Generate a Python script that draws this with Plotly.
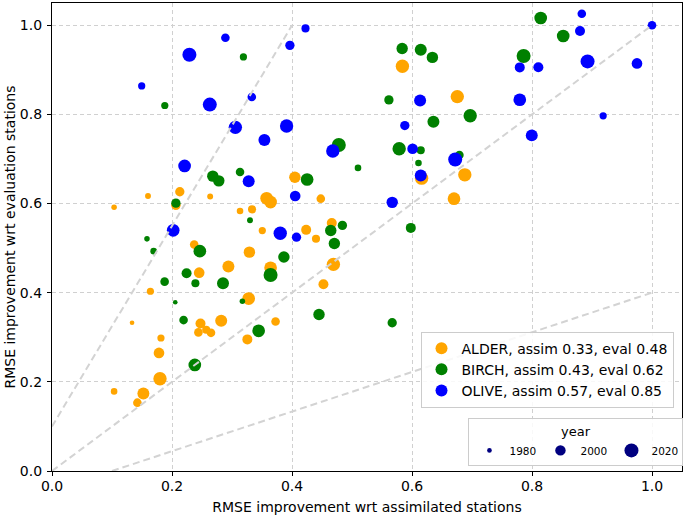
import plotly.graph_objects as go

# ---------------- data ----------------
alder_x = [0.584, 0.6755, 0.688, 0.670, 0.616, 0.4048, 0.448, 0.4663, 0.4236, 0.440, 0.469, 0.4524,
           0.16, 0.213, 0.2636, 0.1035, 0.2065, 0.3577, 0.3643, 0.3334, 0.3134, 0.3505,
           0.237, 0.329, 0.294, 0.3643, 0.2453, 0.164, 0.3278, 0.1334, 0.2475, 0.282,
           0.3726, 0.244, 0.257, 0.265, 0.3256, 0.1816, 0.1783, 0.180, 0.1035, 0.1523, 0.1423]
alder_y = [0.908, 0.840, 0.6645, 0.611, 0.657, 0.659, 0.611, 0.5565, 0.541, 0.521, 0.4636, 0.419,
           0.617, 0.6265, 0.616, 0.592, 0.596, 0.612, 0.6034, 0.587, 0.5833, 0.5394,
           0.508, 0.491, 0.459, 0.456, 0.445, 0.4033, 0.3869, 0.3326, 0.331, 0.337,
           0.3355, 0.311, 0.317, 0.310, 0.2953, 0.2984, 0.265, 0.207, 0.1786, 0.174, 0.1533]
alder_year = [2016, 2016, 2016, 2012, 2016, 2005, 1992, 1998, 1998, 1990, 2016, 1998,
              1983, 1995, 1983, 1982, 1995, 2012, 2012, 1990, 1985, 1987,
              1992, 2005, 2008, 2012, 2001, 1987, 2012, 1980, 1998, 2008,
              1992, 1992, 1990, 1992, 1998, 1987, 2001, 2016, 1985, 2008, 1992]

birch_x = [0.188, 0.319, 0.5836, 0.6146, 0.634, 0.5615, 0.697, 0.6357, 0.478, 0.5786, 0.6146, 0.6108,
           0.51, 0.679, 0.8145, 0.852, 0.786, 0.598, 0.484, 0.567, 0.268, 0.278, 0.3134, 0.4252,
           0.2065, 0.330, 0.1583, 0.1694, 0.2464, 0.3865, 0.3643, 0.2243, 0.1877, 0.239, 0.285,
           0.2054, 0.3173, 0.2193, 0.3444, 0.238, 0.445, 0.4646, 0.4706]
birch_y = [0.820, 0.929, 0.948, 0.945, 0.928, 0.8326, 0.797, 0.7835, 0.7314, 0.723, 0.7195, 0.691,
           0.680, 0.709, 1.0164, 0.976, 0.931, 0.5454, 0.551, 0.3326, 0.6615, 0.651, 0.671, 0.654,
           0.601, 0.5625, 0.5208, 0.4933, 0.4933, 0.480, 0.4397, 0.4435, 0.4248, 0.4212, 0.421,
           0.3787, 0.381, 0.3386, 0.3145, 0.238, 0.351, 0.5395, 0.5105]
birch_year = [1987, 1987, 2005, 2008, 2005, 1995, 2016, 2008, 2020, 2016, 1990, 1985,
              1985, 1992, 2012, 2012, 2020, 1998, 1995, 1995, 2005, 2005, 1992, 2012,
              1995, 1983, 1982, 1985, 2012, 2005, 2020, 1998, 1992, 1990, 2008,
              1980, 1982, 1992, 2012, 2012, 2005, 2005, 2005]

olive_x = [0.1495, 0.229, 0.289, 0.3965, 0.263, 0.333, 0.3056, 0.391, 0.354, 0.221, 0.4225,
           0.6135, 0.588, 0.468, 0.601, 0.672, 0.883, 0.880, 1.0, 0.7796, 0.8106, 0.8926,
           0.975, 0.7796, 0.9186, 0.7996, 0.6146, 0.567, 0.3278, 0.4053, 0.3804, 0.4075, 0.202]
olive_y = [0.864, 0.934, 0.972, 0.955, 0.822, 0.839, 0.771, 0.774, 0.7425, 0.6845, 0.993,
           0.831, 0.775, 0.718, 0.723, 0.699, 1.026, 0.987, 1.0, 0.9055, 0.906, 0.919,
           0.9144, 0.833, 0.797, 0.753, 0.663, 0.6027, 0.650, 0.617, 0.5335, 0.5246, 0.540]
olive_year = [1987, 2020, 1992, 1995, 2020, 1992, 2016, 2016, 2008, 2012, 1990,
              2008, 1995, 2016, 2001, 2020, 1992, 1998, 1992, 1998, 1998, 2020,
              2001, 2012, 1987, 2008, 2008, 2005, 2008, 2001, 2016, 1995, 2012]

species_labels = ["ALDER, assim 0.33, eval 0.48",
                  "BIRCH, assim 0.43, eval 0.62",
                  "OLIVE, assim 0.57, eval 0.85"]
legend_years = [1980, 2000, 2020]

# reference lines: y = slope * x + intercept, clipped to unit box
ref_slopes = [2.25, 1.0, 1 / 2.25]
ref_intercepts = [0.1, 0.0, -0.1 / 2.25]

tick_vals = [0.0, 0.2, 0.4, 0.6, 0.8, 1.0]
tick_text = ["0.0", "0.2", "0.4", "0.6", "0.8", "1.0"]


def year_size(y):
    return (4.35 * (y - 1975)) ** 0.5


colors = ["#ffa500", "#008000", "#0000ff"]
FONT = "DejaVu Sans"

fig = go.Figure()
for xs, ys, yrs, lab, col in zip([alder_x, birch_x, olive_x], [alder_y, birch_y, olive_y],
                                 [alder_year, birch_year, olive_year], species_labels, colors):
    fig.add_trace(go.Scatter(
        x=xs, y=ys, mode="markers", name=lab, legend="legend",
        marker=dict(color=col, size=[year_size(v) for v in yrs], line=dict(width=0), opacity=1),
    ))

for m, b in zip(ref_slopes, ref_intercepts):
    x0 = max(0.0, (0.0 - b) / m)
    x1 = min(1.0, (1.0 - b) / m)
    fig.add_trace(go.Scatter(
        x=[x0, x1], y=[m * x0 + b, m * x1 + b], mode="lines", showlegend=False,
        line=dict(color="#d3d3d3", width=2, dash="7px,4px"), hoverinfo="skip",
    ))

for yr in legend_years:
    fig.add_trace(go.Scatter(
        x=[None], y=[None], mode="markers", name=str(yr), legend="legend2",
        marker=dict(color="#000080", size=year_size(yr)),
    ))

axis_common = dict(
    range=[0, 1.05], tickvals=tick_vals, ticktext=tick_text, automargin=False,
    showgrid=True, gridcolor="#d0d0d0", gridwidth=0.8, griddash="4px,3px",
    zeroline=False, showline=True, linecolor="black", linewidth=1.2, mirror=True,
    ticks="outside", ticklen=4, tickcolor="black", tickwidth=1,
    tickfont=dict(family=FONT, size=14, color="black"),
)

fig.update_layout(
    width=685, height=515,
    margin=dict(l=52, r=2, t=3, b=44),
    plot_bgcolor="white", paper_bgcolor="white",
    font=dict(family=FONT, color="black"),
    xaxis=dict(**axis_common, ticklabelstandoff=-2,
               title=dict(text="RMSE improvement wrt assimilated stations",
                          font=dict(family=FONT, size=14), standoff=10)),
    yaxis=dict(**axis_common, ticklabelstandoff=2,
               title=dict(text="RMSE improvement wrt evaluation stations",
                          font=dict(family=FONT, size=14), standoff=0)),
    legend=dict(
        x=0.584, y=0.298, xanchor="left", yanchor="top",
        bgcolor="rgba(255,255,255,0.85)", bordercolor="#cccccc", borderwidth=1,
        font=dict(family=FONT, size=14), itemsizing="constant", tracegroupgap=0,
    ),
    legend2=dict(
        x=0.66, y=0.0107, xanchor="left", yanchor="bottom", orientation="h",
        bgcolor="rgba(255,255,255,0.85)", bordercolor="#cccccc", borderwidth=1,
        font=dict(family=FONT, size=10.5), itemsizing="trace", itemwidth=30,
        entrywidth=26, entrywidthmode="pixels",
        title=dict(text="year", side="top center", font=dict(family=FONT, size=13)),
    ),
)

fig.write_html("out.html", config={"displayModeBar": False},
               post_script="document.body.style.margin='0px';document.body.style.overflow='hidden';")
